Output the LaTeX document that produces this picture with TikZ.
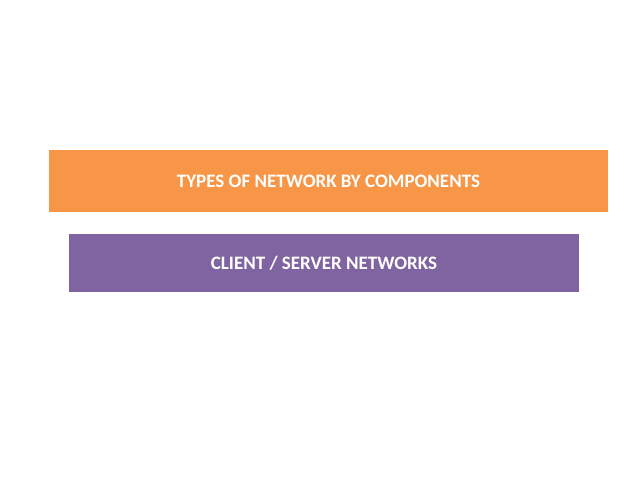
\documentclass[tikz,border=0pt]{standalone}
\usepackage{fontspec}
\setmainfont{Carlito}
\usetikzlibrary{shadows}
\definecolor{org}{HTML}{F79646}
\definecolor{pur}{HTML}{8064A2}
\begin{document}
\begin{tikzpicture}[x=1pt,y=-1pt,
  banner/.style={draw=white,line width=2pt,drop shadow={shadow xshift=1pt,shadow yshift=-1pt,opacity=0.3},text=white,font=\bfseries\fontsize{19}{22}\selectfont,inner sep=0pt}]
\useasboundingbox[fill=white] (0,0) rectangle (638,478);
\node[banner,fill=org,minimum width=561pt,minimum height=64pt] (a) at (328.5,181) {TYPES OF NETWORK BY COMPONENTS};
\node[banner,fill=pur,minimum width=512pt,minimum height=60pt] (b) at (324,263) {CLIENT / SERVER NETWORKS};
\end{tikzpicture}
\end{document}
